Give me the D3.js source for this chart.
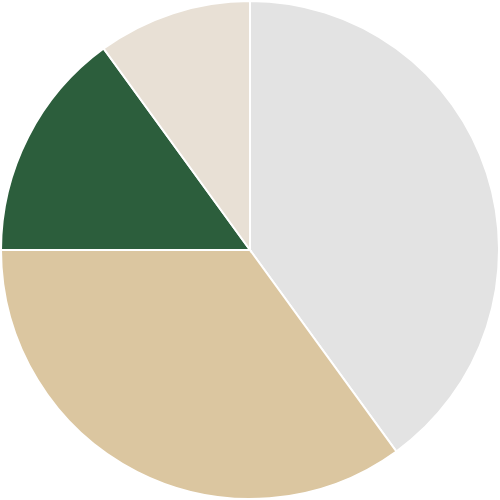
<!DOCTYPE html>
<html>
<head>
<meta charset="utf-8">
<script src="https://cdn.jsdelivr.net/npm/d3@7"></script>
<style>
  body { margin: 0; background: #fff; }
</style>
</head>
<body>
<div id="chart"></div>
<script>
// slice data, clockwise from 12 o'clock
const labels = ["A", "B", "C", "D"];
const values = [40, 35, 15, 10];
const colors = ["#e3e3e3", "#dbc6a0", "#2c5e3c", "#e8e0d5"];

const w = 500;
const h = 500;
const r = 249;

const svg = d3.select("#chart")
    .append("svg")
    .attr("width", w)
    .attr("height", h);

const g = svg.append("g")
    .attr("transform", "translate(" + w / 2 + "," + h / 2 + ")");

const pie = d3.pie().sort(null).value((d) => d);
const arc = d3.arc().innerRadius(0).outerRadius(r);

g.selectAll("path")
    .data(pie(values))
    .enter()
    .append("path")
    .attr("d", arc)
    .attr("fill", (d, i) => colors[i])
    .attr("stroke", "#fff")
    .attr("stroke-width", 2)
    .append("title")
    .text((d, i) => labels[i] + ": " + d.data);
</script>
</body>
</html>
